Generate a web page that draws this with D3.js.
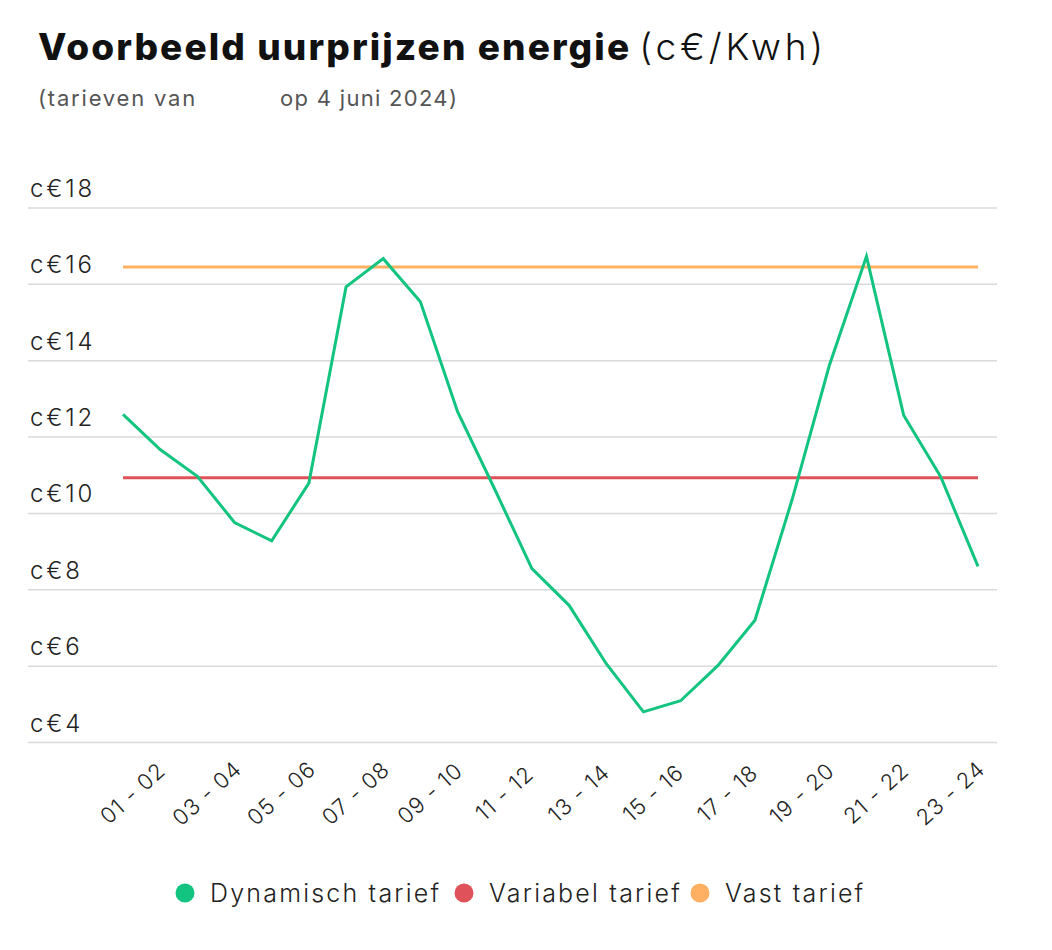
<!DOCTYPE html>
<html>
<head>
<meta charset="utf-8">
<script src="https://cdn.jsdelivr.net/npm/d3@7"></script>
<style>
  html, body { margin: 0; padding: 0; background: #fff; }
  svg { display: block; font-family: Inter, "Noto Sans", sans-serif; }
</style>
</head>
<body>
<svg id="chart" width="1052" height="950"></svg>
<script>
// ---- data ----
const categories = [
  "01 - 02","02 - 03","03 - 04","04 - 05","05 - 06","06 - 07","07 - 08","08 - 09",
  "09 - 10","10 - 11","11 - 12","12 - 13","13 - 14","14 - 15","15 - 16","16 - 17",
  "17 - 18","18 - 19","19 - 20","20 - 21","21 - 22","22 - 23","23 - 24","24 - 01"
];
const dynamischTarief = [
  12.58, 11.66, 10.96, 9.75, 9.27, 10.78, 15.92, 16.66,
  15.53, 12.65, 10.62, 8.54, 7.58, 6.05, 4.79, 5.08,
  6.00, 7.19, 10.35, 13.86, 16.72, 12.56, 10.94, 8.60
];
const variabelTarief = categories.map(() => 10.92);
const vastTarief = categories.map(() => 16.44);
const yTickValues = [4, 6, 8, 10, 12, 14, 16, 18];
const yTickLabels = ["c€4", "c€6", "c€8", "c€10", "c€12", "c€14", "c€16", "c€18"];
const xTickLabels = categories.filter((d, i) => i % 2 === 0);
const seriesNames = ["Dynamisch tarief", "Variabel tarief", "Vast tarief"];
const seriesColors = ["#12c47f", "#e0525a", "#ffb062"];

// ---- drawing ----
const svg = d3.select("#chart");

const x = d3.scalePoint().domain(categories).range([123, 978]);
const y = d3.scaleLinear().domain([4, 18]).range([742, 207.5]);

// title
const title = svg.append("text").attr("x", 38).attr("y", 60)
  .attr("fill", "#111").style("font-size", "37px");
title.append("tspan").attr("font-weight", 800).style("letter-spacing", "2.1px")
  .text("Voorbeeld uurprijzen energie");
title.append("tspan").attr("font-weight", 300).attr("dx", 8)
  .style("letter-spacing", "3.8px").text("(c€/Kwh)");

// subtitle
svg.append("text").attr("x", 38).attr("y", 106).attr("fill", "#555")
  .style("font-size", "22px").style("letter-spacing", "1.8px").text("(tarieven van");
svg.append("text").attr("x", 280).attr("y", 106).attr("fill", "#555")
  .style("font-size", "22px").style("letter-spacing", "1.3px").text("op 4 juni 2024)");

// grid lines + y labels
const yAxis = d3.axisLeft(y).tickValues(yTickValues)
  .tickSize(-969).tickFormat((d, i) => yTickLabels[i]);
const gy = svg.append("g").attr("transform", "translate(28,0)").call(yAxis);
gy.select(".domain").remove();
gy.selectAll(".tick line").attr("stroke", "#dadada").attr("stroke-width", 1.5);
gy.selectAll(".tick text")
  .attr("x", 2).attr("dy", -11)
  .attr("text-anchor", "start")
  .attr("fill", "#222")
  .style("font-size", "24px")
  .style("font-weight", 300)
  .style("letter-spacing", "2.8px")
  .style("font-family", "Inter, sans-serif");

// x labels
const xAxis = d3.axisBottom(x).tickValues(xTickLabels).tickSize(0);
const gx = svg.append("g").attr("transform", "translate(0,742)").call(xAxis);
gx.select(".domain").remove();
gx.selectAll(".tick text")
  .attr("y", 0).attr("dy", 0)
  .attr("text-anchor", "middle")
  .attr("dominant-baseline", "central")
  .attr("transform", "translate(9,51) rotate(-42)")
  .attr("fill", "#222")
  .style("font-size", "22px")
  .style("font-weight", 300)
  .style("letter-spacing", "1px")
  .style("font-family", "Inter, sans-serif");

// lines
const line = d3.line().x((d, i) => x(categories[i])).y(d => y(d));
[vastTarief, variabelTarief].forEach((vals, k) => {
  svg.append("path").datum(vals)
    .attr("d", line)
    .attr("fill", "none")
    .attr("stroke", k === 0 ? seriesColors[2] : seriesColors[1])
    .attr("stroke-width", 3);
});
svg.append("path").datum(dynamischTarief)
  .attr("d", line)
  .attr("fill", "none")
  .attr("stroke", seriesColors[0])
  .attr("stroke-width", 3)
  .attr("stroke-linejoin", "miter");

// legend
const legendX = [185, 464, 700];
const lg = svg.append("g");
seriesNames.forEach((name, i) => {
  lg.append("circle").attr("cx", legendX[i]).attr("cy", 893).attr("r", 9.5)
    .attr("fill", seriesColors[i]);
  lg.append("text").attr("x", legendX[i] + 25).attr("y", 902)
    .attr("fill", "#222").style("font-size", "25px").style("font-weight", 300)
    .style("letter-spacing", "2.2px").text(name);
});
</script>
</body>
</html>
